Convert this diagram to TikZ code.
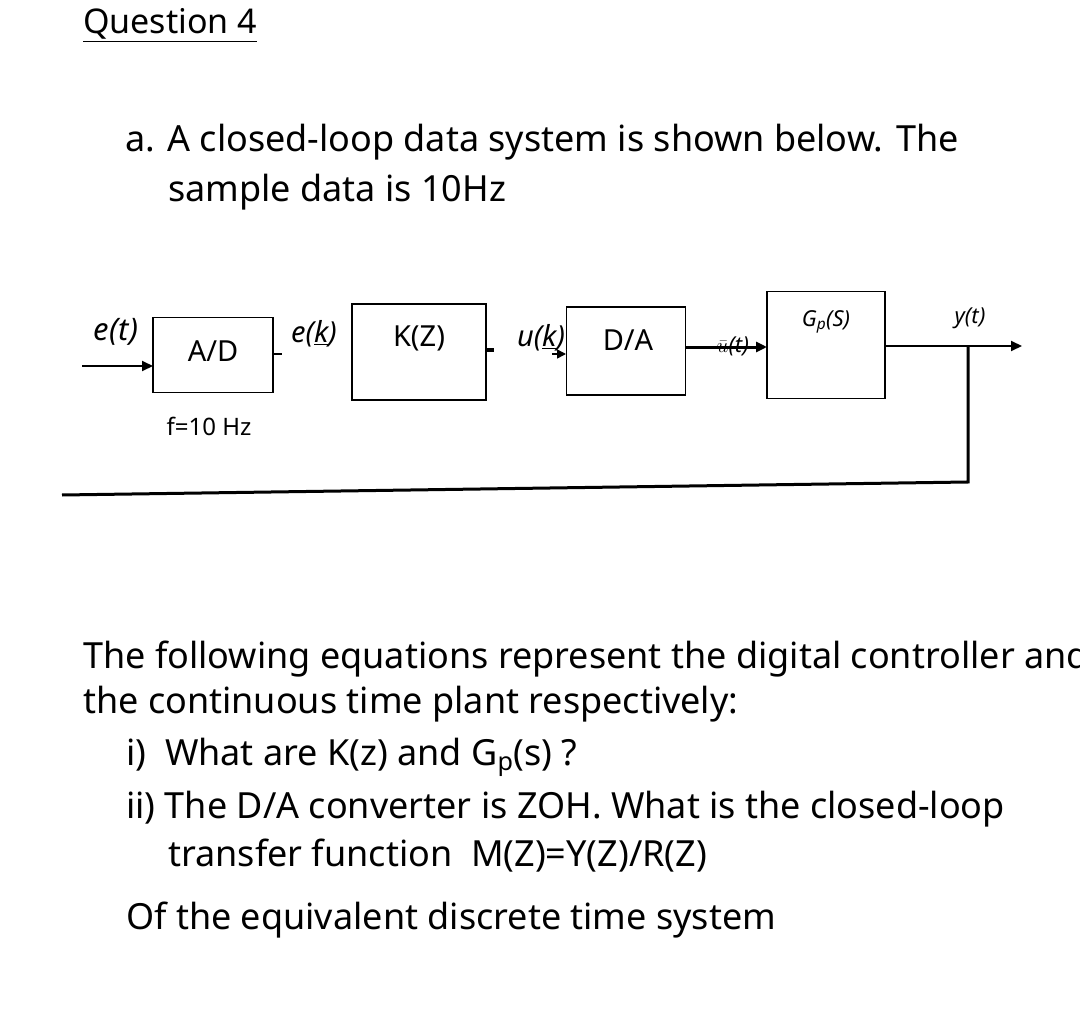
\documentclass[tikz,border=0pt]{standalone}
\usepackage{fontspec}
\setmainfont{Noto Sans}
\usetikzlibrary{arrows.meta}
\begin{document}
\begin{tikzpicture}[x=1pt,y=-1pt,
  blk/.style={draw,line width=1.2pt,inner sep=0pt},
  txt/.style={anchor=base west,inner sep=0pt,font=\fontsize{36}{42}\selectfont},
  lab/.style={inner sep=0pt,font=\fontsize{29}{34}\selectfont},
  arr/.style={line width=2pt,-{Triangle[length=11pt,width=10pt]}}]
\useasboundingbox (0,0) rectangle (1080,1030);
\node[txt,font=\fontsize{34}{40}\selectfont] (q) at (83,34) {\underline{Question 4}};
\node[txt] (a1) at (125,152) {a. A closed-loop data system is shown below. The};
\node[txt] (a2) at (168,202) {sample data is 10Hz};
% blocks
\node[blk,minimum width=120pt,minimum height=75pt] (ad) at (213,355) {};
\node[lab] at (213,351) {A/D};
\node[blk,minimum width=134pt,minimum height=96pt] (kz) at (419,352) {};
\node[lab] at (419,338) {K(Z)};
\node[blk,minimum width=119pt,minimum height=88pt] (da) at (626,351) {};
\node[lab] at (628,340) {D/A};
\node[blk,minimum width=118pt,minimum height=107pt] (gp) at (826,345) {};
\node[lab,font=\fontsize{22}{26}\selectfont\bfseries\itshape] at (826,322) {G\textsubscript{p}(S)};
% labels
\node[lab,font=\fontsize{31}{34}\selectfont\itshape] (et) at (116,332) {e(t)};
\node[lab,font=\fontsize{29}{32}\selectfont\itshape] (ek) at (314,334) {e(\underline{k})};
\node[lab,font=\fontsize{29}{32}\selectfont\itshape] (uk) at (541,338) {u(\underline{k})};
\node[lab,font=\fontsize{22}{26}\selectfont\itshape] (ut) at (733,346) {$\bar{u}$(t)};
\node[lab,font=\fontsize{22}{26}\selectfont\itshape] (yt) at (970,318) {y(t)};
\node[lab,font=\fontsize{24}{28}\selectfont] (f) at (209,426) {f=10 Hz};
% connectors
\coordinate (in) at (82,366);
\coordinate (adin) at (153,366);
\draw[arr] (in) -- (adin);
\coordinate (t1a) at (273,354); \coordinate (t1b) at (282,354);
\draw[line width=1.5pt] (t1a) -- (t1b);
\coordinate (t2a) at (486,350); \coordinate (t2b) at (494,350);
\draw[line width=4pt] (t2a) -- (t2b);
\coordinate (u1) at (552,354); \coordinate (u2) at (566,354);
\draw[line width=1.5pt,-{Triangle[length=9pt,width=9pt]}] (u1) -- (u2);
\coordinate (d1) at (686,347); \coordinate (d2) at (767,347);
\draw[line width=3pt,-{Triangle[length=11pt,width=10pt]}] (d1) -- (d2);
\coordinate (g1) at (885,346);
\coordinate (tap) at (968,346);
\coordinate (outend) at (1022,346);
\coordinate (c1) at (968,482);
\coordinate (c2) at (62,495);
\draw[arr] (g1) -- (outend);
\draw[line width=3pt] (tap) -- (c1) -- (c2);
% text below
\node[txt] (b1) at (83,668) {The following equations represent the digital controller and};
\node[txt] (b2) at (83,713) {the continuous time plant respectively:};
\node[txt] (b3) at (126,765) {i)\ \ What are K(z) and G\textsubscript{p}(s) ?};
\node[txt] (b4) at (126,818) {ii) The D/A converter is ZOH. What is the closed-loop};
\node[txt] (b5) at (168,866) {transfer function\ \ M(Z)=Y(Z)/R(Z)};
\node[txt] (b6) at (126,929) {Of the equivalent discrete time system};
\end{tikzpicture}
\end{document}
